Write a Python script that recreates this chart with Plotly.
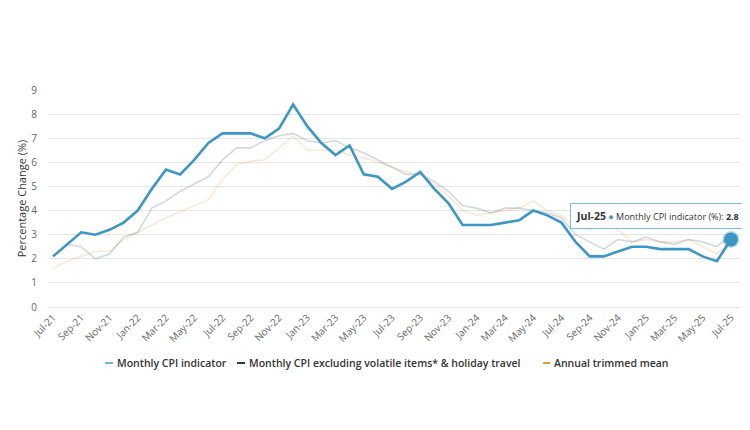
import plotly.graph_objects as go

months = ['Jul-21', 'Aug-21', 'Sep-21', 'Oct-21', 'Nov-21', 'Dec-21',
          'Jan-22', 'Feb-22', 'Mar-22', 'Apr-22', 'May-22', 'Jun-22',
          'Jul-22', 'Aug-22', 'Sep-22', 'Oct-22', 'Nov-22', 'Dec-22',
          'Jan-23', 'Feb-23', 'Mar-23', 'Apr-23', 'May-23', 'Jun-23',
          'Jul-23', 'Aug-23', 'Sep-23', 'Oct-23', 'Nov-23', 'Dec-23',
          'Jan-24', 'Feb-24', 'Mar-24', 'Apr-24', 'May-24', 'Jun-24',
          'Jul-24', 'Aug-24', 'Sep-24', 'Oct-24', 'Nov-24', 'Dec-24',
          'Jan-25', 'Feb-25', 'Mar-25', 'Apr-25', 'May-25', 'Jun-25',
          'Jul-25']

monthly_cpi = [2.1, 2.6, 3.1, 3.0, 3.2, 3.5,
               4.0, 4.9, 5.7, 5.5, 6.1, 6.8, 7.2, 7.2, 7.2, 7.0, 7.4, 8.4,
               7.5, 6.8, 6.3, 6.7, 5.5, 5.4, 4.9, 5.2, 5.6, 4.9, 4.3, 3.4,
               3.4, 3.4, 3.5, 3.6, 4.0, 3.8, 3.5, 2.7, 2.1, 2.1, 2.3, 2.5,
               2.5, 2.4, 2.4, 2.4, 2.1, 1.9, 2.8]

ex_volatile = [2.1, 2.6, 2.5, 2.0, 2.2, 2.9,
               3.1, 4.1, 4.4, 4.8, 5.1, 5.4, 6.1, 6.6, 6.6, 6.9, 7.1, 7.2,
               6.9, 6.8, 6.9, 6.6, 6.4, 6.1, 5.8, 5.5, 5.5, 5.2, 4.8, 4.2,
               4.1, 3.9, 4.1, 4.1, 4.0, 3.9, 3.7, 3.0, 2.7, 2.4, 2.8, 2.7,
               2.9, 2.7, 2.6, 2.8, 2.7, 2.5, 3.0]

trimmed_mean = [1.6, 1.9, 2.1, 2.3, 2.3, 2.8,
                3.1, 3.4, 3.7, 3.95, 4.2, 4.45, 5.3, 5.9, 6.05, 6.1, 6.6, 7.1,
                6.5, 6.5, 6.5, 6.3, 6.2, 6.0, 5.8, 5.6, 5.5, 5.1, 4.6, 4.0,
                3.8, 3.9, 4.0, 4.1, 4.4, 4.0, 3.8, 3.3, 3.2, 3.4, 3.2, 2.7,
                2.8, 2.7, 2.7, 2.8, 2.5, 2.2, 2.7]

tick_labels = months[::2]

series_names = ['Monthly CPI indicator',
                'Monthly CPI excluding volatile items* & holiday travel',
                'Annual trimmed mean']

BLUE = '#3d97c4'
NAVY = '#1d3f5c'
ORANGE = '#f0933a'
LEGEND_COLORS = ['#6cb8e0', NAVY, ORANGE]
FONT = 'Open Sans'

fig = go.Figure()

# faded (inactive) series
fig.add_trace(go.Scatter(x=months, y=trimmed_mean, mode='lines', name=series_names[2],
                         line=dict(color='rgba(240,147,58,0.22)', width=1.6),
                         showlegend=False, hoverinfo='skip'))
fig.add_trace(go.Scatter(x=months, y=ex_volatile, mode='lines', name=series_names[1],
                         line=dict(color='rgba(29,63,92,0.2)', width=1.6),
                         showlegend=False, hoverinfo='skip'))
# highlighted series
fig.add_trace(go.Scatter(x=months, y=monthly_cpi, mode='lines', name=series_names[0],
                         line=dict(color=BLUE, width=2.6),
                         showlegend=False, hoverinfo='skip'))
# hovered point
fig.add_trace(go.Scatter(x=[months[-1]], y=[monthly_cpi[-1]], mode='markers',
                         marker=dict(color=BLUE, size=14,
                                     line=dict(color='rgba(61,151,196,0.35)', width=3)),
                         showlegend=False, hoverinfo='skip'))

# legend (Highcharts-style short line symbols)
legend_sym = [(0.0824, 0.0939), (0.2731, 0.2847), (0.7153, 0.7254)]
legend_txt = [0.0983, 0.289, 0.7298]
LEG_Y = -0.258
for name, col, (s0, s1), tx in zip(series_names, LEGEND_COLORS, legend_sym, legend_txt):
    fig.add_shape(type='line', xref='paper', yref='paper', x0=s0, x1=s1,
                  y0=LEG_Y, y1=LEG_Y, line=dict(color=col, width=2))
    fig.add_annotation(
        x=tx, y=LEG_Y, xref='paper', yref='paper', xanchor='left', yanchor='middle',
        showarrow=False, borderpad=0, text=name,
        font=dict(family=FONT, size=10.5, color='#333333', weight=600))

# tooltip
fig.add_annotation(
    x=months[-1], y=monthly_cpi[-1], xref='x', yref='y',
    xanchor='right', yanchor='bottom', xshift=14, yshift=10,
    showarrow=False,
    text=("<span style='font-size:10.5px'><b>" + months[-1] + "</b></span>"
          " <span style='color:%s'>●</span> "
          "Monthly CPI indicator (%%): <b>%.1f</b>") % (BLUE, monthly_cpi[-1]),
    font=dict(family=FONT, size=9, color='#333333'),
    bgcolor='rgba(255,255,255,0.9)', bordercolor='#7fbde0', borderwidth=1,
    borderpad=5, align='left')

# page body has an 8px margin, so the figure is offset by 8px right/down
fig.update_layout(
    width=750, height=430,
    margin=dict(l=40, r=18, t=82, b=131),
    paper_bgcolor='white', plot_bgcolor='white',
    font=dict(family=FONT, color='#666666'),
    showlegend=False,
    xaxis=dict(type='category', range=[-0.354, 48.64], automargin=False,
               tickmode='array', tickvals=tick_labels, ticktext=tick_labels,
               tickangle=-45, tickfont=dict(size=10, color='#666666'),
               showgrid=False, showline=True, linecolor='#e6e6e6',
               ticks='', fixedrange=True),
    yaxis=dict(range=[0, 9], dtick=1, showgrid=True, gridcolor='#e6e6e6',
               zeroline=False, tickfont=dict(size=10, color='#666666'),
               ticklabelstandoff=10, automargin=False,
               title=dict(text='Percentage Change (%)', standoff=2,
                          font=dict(size=11, color='#333333')),
               fixedrange=True),
)

fig.write_html('out.html')
